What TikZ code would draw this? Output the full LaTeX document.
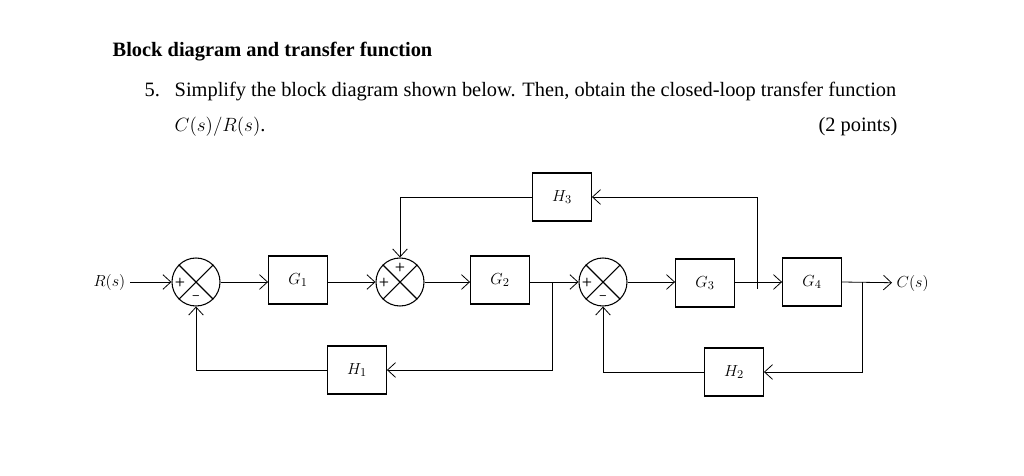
\documentclass[tikz,border=0pt]{standalone}
\usepackage{fontspec}
\setmainfont{Liberation Serif}
\usetikzlibrary{arrows.meta}
\begin{document}
\begin{tikzpicture}[x=0.75pt,y=-0.75pt,
  every node/.style={font=\fontsize{13}{15}\selectfont},
  blk/.style={draw,line width=0.9pt,minimum width=44pt,minimum height=36pt,inner sep=0pt},
  sum/.style={draw,circle,line width=0.8pt,minimum size=36pt,inner sep=0pt},
  ln/.style={line width=0.6pt},
  ar/.style={ln,-{Straight Barb[length=6pt,width=11pt]}},
  sg/.style={font=\sffamily\bfseries\small,inner sep=0pt},
  tx/.style={font=\fontsize{15.3}{18}\selectfont}]
\useasboundingbox (0,0) rectangle (1024,475);
\node[tx,anchor=base west,font=\bfseries\fontsize{15.3}{18}\selectfont] (title) at (108,56) {Block diagram and transfer function};
\node[tx,anchor=base west] (num) at (140,96) {5.};
\node[tx,anchor=base west] (q) at (170,96) {Simplify the block diagram shown below. Then, obtain the closed-loop transfer function};
\node[tx,anchor=base west] (tf) at (170,131) {$C(s)/R(s)$.};
\node[tx,anchor=base east] (pts) at (902,131) {(2 points)};
% nodes
\node[anchor=east] (R) at (130,282) {$R(s)$};
\node[sum] (s1) at (196,282) {};
\node[blk] (G1) at (298,280) {$G_1$};
\node[sum] (s2) at (400,282) {};
\node[blk] (G2) at (500,280) {$G_2$};
\node[sum] (s3) at (603,282) {};
\node[blk] (G3) at (705,283) {$G_3$};
\node[blk] (G4) at (812,282) {$G_4$};
\node[anchor=west] (C) at (892,283) {$C(s)$};
\node[blk] (H3) at (562,197) {$H_3$};
\node[blk] (H1) at (357,370) {$H_1$};
\node[blk] (H2) at (734,372) {$H_2$};
\foreach \s in {s1,s2,s3}{
  \draw[line width=0.8pt] (\s.north west)--(\s.south east) (\s.north east)--(\s.south west);}
\node[sg] (p1) at ([xshift=-12]s1.center) {+};
\node[sg] (m1) at ([yshift=-12]s1.center) {--};
\node[sg] (p2) at ([xshift=-12]s2.center) {+};
\node[sg] (p2b) at ([yshift=11]s2.center) {+};
\node[sg] (p3) at ([xshift=-12]s3.center) {+};
\node[sg] (m3) at ([yshift=-12]s3.center) {--};
\coordinate (b1) at (552,282);
\coordinate (b2) at (757,282);
\coordinate (b3) at (862,282);
% connectors
\draw[ar] (R) -- (s1);
\draw[ar] (s1) -- (G1.west|-s1);
\draw[ar] (G1.east|-s2) -- (s2);
\draw[ar] (s2) -- (G2.west|-s2);
\draw[ar] (G2.east|-s3) -- (s3);
\draw[ar] (s3) -- (G3.west|-s3);
\draw[ar] (G3.east|-s3) -- (G4.west|-s3);
\draw[ar] (G4.east|-s3) -- (C);
\draw[ar] (b1) |- (H1.east);
\draw[ar] (H1.west) -| (s1.south);
\draw[ar] (b3) |- (H2.east);
\draw[ar] (H2.west) -| (s3.south);
\draw[ar] ([yshift=-5]b2) |- (H3.east);
\draw[ar] (H3.west) -| (s2.north);
\end{tikzpicture}
\end{document}
